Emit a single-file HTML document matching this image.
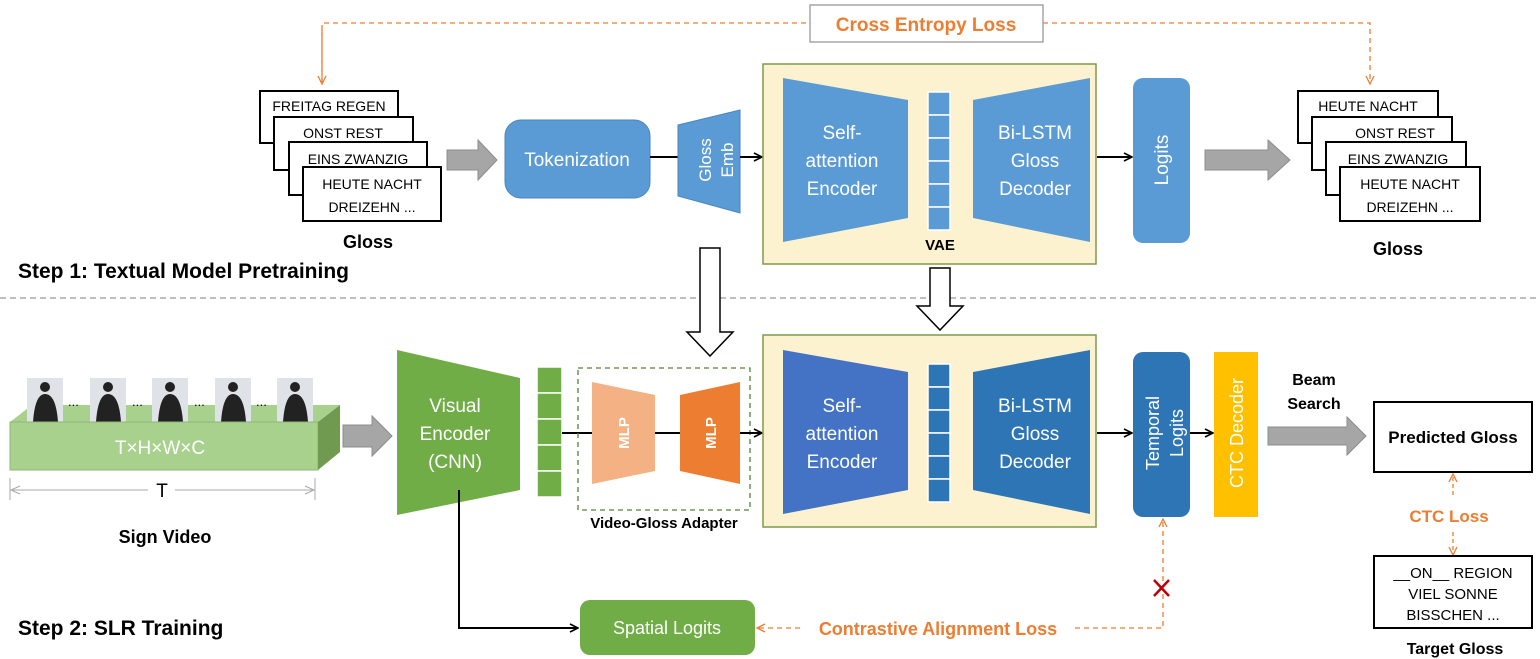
<!DOCTYPE html>
<html><head><meta charset="utf-8"><style>
html,body{margin:0;padding:0;background:#fff;}
svg{display:block;font-family:"Liberation Sans",sans-serif;}
</style></head><body>
<svg width="1540" height="659" viewBox="0 0 1540 659" xmlns="http://www.w3.org/2000/svg">
<defs>
<marker id="ab" markerWidth="10" markerHeight="10" refX="9" refY="5" orient="auto" markerUnits="userSpaceOnUse"><path d="M1,1 L9,5 L1,9" fill="none" stroke="#000" stroke-width="1.6"/></marker>
<marker id="ao" markerWidth="10" markerHeight="10" refX="9" refY="5" orient="auto" markerUnits="userSpaceOnUse"><path d="M1,1 L9,5 L1,9" fill="none" stroke="#ed7d31" stroke-width="1.3"/></marker>
</defs>

<path d="M322,84 V23 H810 M1043,23 H1370 V84" fill="none" stroke="#ed7d31" stroke-width="1.3" stroke-dasharray="5,4" marker-end="url(#ao)"/>
<path d="M322,30 V84" fill="none" stroke="#ed7d31" stroke-width="1.3" stroke-dasharray="5,4" marker-end="url(#ao)"/>
<rect x="810" y="5" width="233" height="37" fill="#fff" stroke="#999" stroke-width="1.3"/>
<text x="926" y="31" font-size="19" font-weight="bold" fill="#ed7d31" text-anchor="middle">Cross Entropy Loss</text>

<g font-size="14" text-anchor="middle" fill="#000">
<rect x="260" y="91" width="138" height="52" fill="#fff" stroke="#000" stroke-width="2"/>
<text x="329" y="111">FREITAG REGEN</text>
<rect x="274" y="117" width="139" height="53" fill="#fff" stroke="#000" stroke-width="2"/>
<text x="343" y="138">ONST REST</text>
<rect x="289" y="142" width="138" height="53" fill="#fff" stroke="#000" stroke-width="2"/>
<text x="358" y="164">EINS ZWANZIG</text>
<rect x="303" y="167" width="138" height="54" fill="#fff" stroke="#000" stroke-width="2"/>
<text x="372" y="189">HEUTE NACHT</text>
<text x="372" y="212">DREIZEHN ...</text>
</g>
<text x="368" y="248" font-size="18" font-weight="bold" text-anchor="middle">Gloss</text>

<polygon points="447,150 478,150 478,140 497,160 478,180 478,170 447,170" fill="#a6a6a6" stroke="#8c8c8c"/>

<rect x="505" y="120" width="145" height="78" rx="16" fill="#5b9bd5" stroke="#4a86c0"/>
<text x="577" y="166" font-size="19" fill="#fff" text-anchor="middle">Tokenization</text>
<line x1="650" y1="157" x2="678" y2="157" stroke="#000" stroke-width="2"/>
<polygon points="678,125 740,110 740,213 678,196" fill="#5b9bd5" stroke="#4a86c0"/>
<text transform="translate(715,160) rotate(-90)" font-size="17" fill="#fff" text-anchor="middle"><tspan x="0" dy="-4">Gloss</tspan><tspan x="0" dy="22">Emb</tspan></text>
<line x1="740" y1="157" x2="762" y2="157" stroke="#000" stroke-width="2" marker-end="url(#ab)"/>

<rect x="763" y="64" width="333" height="200" fill="#fdf2d0" stroke="#7d9b4a" stroke-width="1.5"/>
<polygon points="783,78 908,100 908,218 783,242" fill="#5b9bd5"/>
<text font-size="19" fill="#fff" text-anchor="middle"><tspan x="842" y="139">Self-</tspan><tspan x="842" y="167">attention</tspan><tspan x="842" y="195">Encoder</tspan></text>
<g fill="#5b9bd5" stroke="#fff" stroke-width="1.5">
<rect x="928" y="92" width="22" height="23"/><rect x="928" y="115" width="22" height="23"/><rect x="928" y="138" width="22" height="23"/><rect x="928" y="161" width="22" height="23"/><rect x="928" y="184" width="22" height="23"/><rect x="928" y="207" width="22" height="23"/>
</g>
<text x="940" y="250" font-size="15" font-weight="bold" text-anchor="middle">VAE</text>
<polygon points="973,100 1090,78 1090,242 973,218" fill="#5b9bd5"/>
<text font-size="19" fill="#fff" text-anchor="middle"><tspan x="1035" y="139">Bi-LSTM</tspan><tspan x="1035" y="167">Gloss</tspan><tspan x="1035" y="195">Decoder</tspan></text>
<line x1="1097" y1="157" x2="1132" y2="157" stroke="#000" stroke-width="2" marker-end="url(#ab)"/>
<rect x="1133" y="78" width="57" height="165" rx="10" fill="#5b9bd5"/>
<text transform="translate(1168,160) rotate(-90)" font-size="19" fill="#fff" text-anchor="middle">Logits</text>
<polygon points="1205,150 1268,150 1268,140 1290,160 1268,180 1268,170 1205,170" fill="#a6a6a6" stroke="#8c8c8c"/>

<g font-size="14" text-anchor="middle" fill="#000">
<rect x="1298" y="91" width="140" height="52" fill="#fff" stroke="#000" stroke-width="2"/>
<text x="1368" y="111">HEUTE NACHT</text>
<rect x="1312" y="117" width="140" height="53" fill="#fff" stroke="#000" stroke-width="2"/>
<text x="1395" y="138">ONST REST</text>
<rect x="1326" y="142" width="140" height="53" fill="#fff" stroke="#000" stroke-width="2"/>
<text x="1398" y="164">EINS ZWANZIG</text>
<rect x="1340" y="167" width="140" height="54" fill="#fff" stroke="#000" stroke-width="2"/>
<text x="1410" y="189">HEUTE NACHT</text>
<text x="1410" y="212">DREIZEHN ...</text>
</g>
<text x="1398" y="255" font-size="18" font-weight="bold" text-anchor="middle">Gloss</text>

<text x="18" y="278" font-size="21" font-weight="bold">Step 1: Textual Model Pretraining</text>
<line x1="0" y1="298" x2="1540" y2="298" stroke="#999" stroke-width="1.3" stroke-dasharray="6,4"/>

<polygon points="700,248 720,248 720,332 733,332 710,356 687,332 700,332" fill="#fff" stroke="#000" stroke-width="1.5"/>
<polygon points="930,268 950,268 950,306 963,306 940,330 917,306 930,306" fill="#fff" stroke="#000" stroke-width="1.5"/>

<polygon points="10,422 32,405 340,405 318,422" fill="#a9d18e"/>
<g fill="#dfe3e8">
<rect x="27" y="378" width="36" height="44"/><rect x="90" y="378" width="36" height="44"/><rect x="152" y="378" width="36" height="44"/><rect x="215" y="378" width="36" height="44"/><rect x="277" y="378" width="36" height="44"/>
</g>
<g fill="#222">
<circle cx="45" cy="387" r="5"/><path d="M33,422 Q35,394 45,394 Q56,394 58,422Z"/>
<circle cx="108" cy="387" r="5"/><path d="M96,422 Q98,394 108,394 Q119,394 121,422Z"/>
<circle cx="170" cy="387" r="5"/><path d="M158,422 Q160,394 170,394 Q181,394 183,422Z"/>
<circle cx="233" cy="387" r="5"/><path d="M221,422 Q223,394 233,394 Q244,394 246,422Z"/>
<circle cx="295" cy="387" r="5"/><path d="M283,422 Q285,394 295,394 Q306,394 308,422Z"/>
</g>
<g font-size="13" fill="#000"><text x="68" y="406">...</text><text x="132" y="406">...</text><text x="194" y="406">...</text><text x="256" y="406">...</text></g>
<rect x="10" y="422" width="308" height="48" fill="#a9d18e" stroke="#8fb574"/>
<polygon points="318,422 340,405 340,452 318,470" fill="#6f9a50"/>
<text x="160" y="454" font-size="19" fill="#fff" text-anchor="middle">T×H×W×C</text>
<line x1="10" y1="478" x2="10" y2="500" stroke="#aaa"/><line x1="315" y1="478" x2="315" y2="500" stroke="#aaa"/>
<line x1="10" y1="490" x2="148" y2="490" stroke="#aaa"/><line x1="175" y1="490" x2="315" y2="490" stroke="#aaa"/>
<path d="M20,486 L11,490 L20,494 M305,486 L314,490 L305,494" fill="none" stroke="#aaa"/>
<text x="162" y="497" font-size="19" text-anchor="middle">T</text>
<text x="165" y="543" font-size="18" font-weight="bold" text-anchor="middle">Sign Video</text>

<polygon points="343,425 372,425 372,416 392,436 372,456 372,447 343,447" fill="#a6a6a6" stroke="#8c8c8c"/>

<polygon points="397,350 520,378 520,490 397,515" fill="#70ad47"/>
<text font-size="19" fill="#fff" text-anchor="middle"><tspan x="455" y="412">Visual</tspan><tspan x="455" y="440">Encoder</tspan><tspan x="455" y="468">(CNN)</tspan></text>
<g fill="#70ad47" stroke="#fff" stroke-width="1.5">
<rect x="537" y="367" width="25" height="26"/><rect x="537" y="393" width="25" height="26"/><rect x="537" y="419" width="25" height="26"/><rect x="537" y="445" width="25" height="26"/><rect x="537" y="471" width="25" height="26"/>
</g>
<line x1="562" y1="433" x2="592" y2="433" stroke="#000" stroke-width="2"/>
<rect x="578" y="368" width="172" height="142" fill="none" stroke="#548235" stroke-width="1.3" stroke-dasharray="5,4"/>
<polygon points="592,382 655,395 655,471 592,484" fill="#f4b183"/>
<text transform="translate(629,433) rotate(-90)" font-size="15" font-weight="bold" fill="#fff" text-anchor="middle">MLP</text>
<line x1="655" y1="433" x2="680" y2="433" stroke="#000" stroke-width="2"/>
<polygon points="680,395 740,382 740,484 680,471" fill="#ed7d31"/>
<text transform="translate(716,433) rotate(-90)" font-size="15" font-weight="bold" fill="#fff" text-anchor="middle">MLP</text>
<text x="664" y="528" font-size="15" font-weight="bold" text-anchor="middle">Video-Gloss Adapter</text>
<line x1="740" y1="433" x2="762" y2="433" stroke="#000" stroke-width="2" marker-end="url(#ab)"/>

<rect x="763" y="335" width="333" height="192" fill="#fdf2d0" stroke="#7d9b4a" stroke-width="1.5"/>
<polygon points="783,350 908,372 908,490 783,514" fill="#4472c4"/>
<text font-size="19" fill="#fff" text-anchor="middle"><tspan x="842" y="412">Self-</tspan><tspan x="842" y="440">attention</tspan><tspan x="842" y="468">Encoder</tspan></text>
<g fill="#2e75b6" stroke="#fff" stroke-width="1.5">
<rect x="928" y="364" width="22" height="23"/><rect x="928" y="387" width="22" height="23"/><rect x="928" y="410" width="22" height="23"/><rect x="928" y="433" width="22" height="23"/><rect x="928" y="456" width="22" height="23"/><rect x="928" y="479" width="22" height="23"/>
</g>
<polygon points="973,372 1090,350 1090,514 973,490" fill="#2e75b6"/>
<text font-size="19" fill="#fff" text-anchor="middle"><tspan x="1035" y="412">Bi-LSTM</tspan><tspan x="1035" y="440">Gloss</tspan><tspan x="1035" y="468">Decoder</tspan></text>
<line x1="1097" y1="433" x2="1132" y2="433" stroke="#000" stroke-width="2" marker-end="url(#ab)"/>
<rect x="1133" y="352" width="57" height="165" rx="10" fill="#2e75b6"/>
<text transform="translate(1163,433) rotate(-90)" font-size="18" fill="#fff" text-anchor="middle"><tspan x="0" dy="-4">Temporal</tspan><tspan x="0" dy="24">Logits</tspan></text>
<line x1="1190" y1="433" x2="1213" y2="433" stroke="#000" stroke-width="2" marker-end="url(#ab)"/>
<rect x="1214" y="352" width="44" height="165" fill="#ffc000"/>
<text transform="translate(1243,433) rotate(-90)" font-size="18" fill="#fff" text-anchor="middle">CTC Decoder</text>

<text font-size="16" font-weight="bold" text-anchor="middle"><tspan x="1314" y="385">Beam</tspan><tspan x="1314" y="409">Search</tspan></text>
<polygon points="1268,427 1347,427 1347,417 1366,436 1347,455 1347,445 1268,445" fill="#a6a6a6" stroke="#8c8c8c"/>
<rect x="1374" y="402" width="158" height="70" fill="#fff" stroke="#000" stroke-width="2"/>
<text x="1453" y="443" font-size="17" font-weight="bold" text-anchor="middle">Predicted Gloss</text>
<path d="M1453,495 V474" fill="none" stroke="#ed7d31" stroke-width="1.3" stroke-dasharray="4,3" marker-end="url(#ao)"/>
<path d="M1453,532 V555" fill="none" stroke="#ed7d31" stroke-width="1.3" stroke-dasharray="4,3" marker-end="url(#ao)"/>
<text x="1449" y="522" font-size="17" font-weight="bold" fill="#ed7d31" text-anchor="middle">CTC Loss</text>
<rect x="1374" y="556" width="158" height="72" fill="#fff" stroke="#000" stroke-width="2"/>
<text font-size="15" text-anchor="middle"><tspan x="1453" y="578">__ON__ REGION</tspan><tspan x="1453" y="599">VIEL SONNE</tspan><tspan x="1453" y="620">BISSCHEN ...</tspan></text>
<text x="1455" y="654" font-size="16" font-weight="bold" text-anchor="middle">Target Gloss</text>

<path d="M459,490 V628 H578" fill="none" stroke="#000" stroke-width="2" marker-end="url(#ab)"/>
<rect x="580" y="600" width="175" height="55" rx="10" fill="#70ad47"/>
<text x="667" y="634" font-size="18" fill="#fff" text-anchor="middle">Spatial Logits</text>
<path d="M800,628 H757" fill="none" stroke="#ed7d31" stroke-width="1.3" stroke-dasharray="5,4" marker-end="url(#ao)"/>
<path d="M1075,628 H1163 V519" fill="none" stroke="#ed7d31" stroke-width="1.3" stroke-dasharray="5,4" marker-end="url(#ao)"/>
<text x="938" y="635" font-size="18" font-weight="bold" fill="#ed7d31" text-anchor="middle">Contrastive Alignment Loss</text>
<path d="M1154,580 L1169,596 M1169,580 L1154,596" stroke="#c00000" stroke-width="2.5"/>
<text x="18" y="635" font-size="21" font-weight="bold">Step 2: SLR Training</text>
</svg>
</body></html>
